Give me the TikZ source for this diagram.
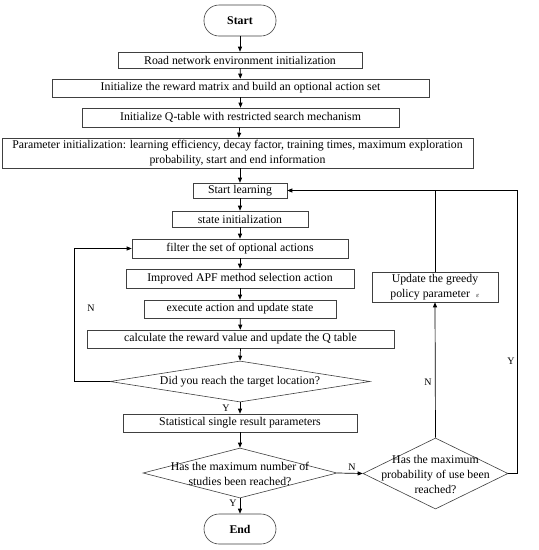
\documentclass[tikz,border=0pt]{standalone}
\usepackage{fontspec}
\setmainfont{Liberation Serif}
\usetikzlibrary{shapes.geometric,arrows.meta}
\newcommand{\fs}{\fontsize{11.8}{15}\selectfont}
\tikzset{
  box/.style={draw=black!75, line width=0.6pt, inner sep=0pt, align=center, font=\fs},
  term/.style={box, rounded corners=15pt, font=\fs\bfseries},
  dia/.style={draw=black!75, line width=0.6pt, shape=diamond, inner sep=0pt, shape aspect=1},
  dtext/.style={align=center, font=\fs, inner sep=0pt},
  lab/.style={font=\fontsize{10}{12}\selectfont, inner sep=0pt},
  arr/.style={draw=black, line width=0.7pt, -{Triangle[length=5pt,width=4pt]}},
  ln/.style={draw=black, line width=0.7pt}
}
\begin{document}
\begin{tikzpicture}[x=1pt,y=-1pt]
\useasboundingbox[fill=white] (0,0) rectangle (539,550);
\node[term, minimum width=72pt, minimum height=31pt] (start) at (240,20.5) {Start};
\node[box, minimum width=244pt, minimum height=16pt] (road) at (240,60) {Road network environment initialization};
\node[box, minimum width=377pt, minimum height=18pt] (reward) at (240.5,88) {Initialize the reward matrix and build an optional action set};
\node[box, minimum width=317pt, minimum height=19pt] (qtab) at (240.5,117.5) {Initialize Q-table with restricted search mechanism};
\node[box, minimum width=471pt, minimum height=30pt] (param) at (237.5,153) {Parameter initialization: learning efficiency, decay factor, training times, maximum exploration\\probability, start and end information};
\node[box, minimum width=94pt, minimum height=15pt] (learn) at (240,190.5) {Start learning};
\node[box, minimum width=136pt, minimum height=16pt] (stinit) at (240,219) {state initialization};
\node[box, minimum width=216pt, minimum height=19pt] (filter) at (240,248.5) {filter the set of optional actions};
\node[box, minimum width=228pt, minimum height=19pt] (apf) at (240,278.5) {Improved APF method selection action};
\node[box, minimum width=192pt, minimum height=18pt] (exec) at (240,309) {execute action and update state};
\node[box, minimum width=307pt, minimum height=18pt] (calc) at (240.5,339) {calculate the reward value and update the Q table};
\node[dia, minimum width=260pt, minimum height=41pt] (d1) at (240,381.5) {};
\node[dtext] (d1t) at (240,382) {Did you reach the target location?};
\node[box, minimum width=234pt, minimum height=18pt] (stat) at (240,423) {Statistical single result parameters};
\node[dia, minimum width=194pt, minimum height=50pt] (d2) at (240,473) {};
\node[dtext] (d2t) at (240,474) {Has the maximum number of\\studies been reached?};
\node[term, minimum width=72pt, minimum height=30pt] (end) at (240,529) {End};
\node[dia, minimum width=145pt, minimum height=71pt] (d3) at (435.5,473.5) {};
\node[dtext] (d3t) at (435.5,474) {Has the maximum\\probability of use been\\reached?};
\node[box, minimum width=126pt, minimum height=30pt] (upd) at (435,287) {Update the greedy\\policy parameter\enspace{\fontsize{7}{8}\selectfont$\varepsilon$}};

\draw[arr] (start) -- (road);
\draw[arr] (road) -- (reward);
\draw[arr] (reward) -- (qtab);
\draw[arr] (qtab) -- (param);
\draw[arr] (param.south -| learn.north) -- (learn);
\draw[arr] (learn) -- (stinit);
\draw[arr] (stinit) -- (filter);
\draw[arr] (filter) -- (apf);
\draw[arr] (apf) -- (exec);
\draw[arr] (exec) -- (calc);
\draw[arr] (calc.south) -- (d1.north);
\draw[arr] (d1.south) -- (stat.north);
\draw[arr] (stat.south) -- (d2.north);
\draw[arr] (d2.south) -- (end.north);
\coordinate (nl) at (74,381.5);
\draw[arr] (d1.west) -- (nl) |- (filter.west);
\draw[arr] (d2.east) -- (d3.west);
\draw[arr] (d3.north) -- (upd.south);
\draw[ln] (upd.north) -- (upd.north |- learn.east);
\coordinate (yc) at (517,190.5);
\draw[arr] (d3.east) -| (yc) -- (learn.east);

\node[lab] (n1) at (91,308) {N};
\node[lab] (y1) at (226,408) {Y};
\node[lab] (n2) at (352,467) {N};
\node[lab] (n3) at (428,382) {N};
\node[lab] (y2) at (511,361) {Y};
\node[lab] (y3) at (233,503) {Y};
\end{tikzpicture}
\end{document}
